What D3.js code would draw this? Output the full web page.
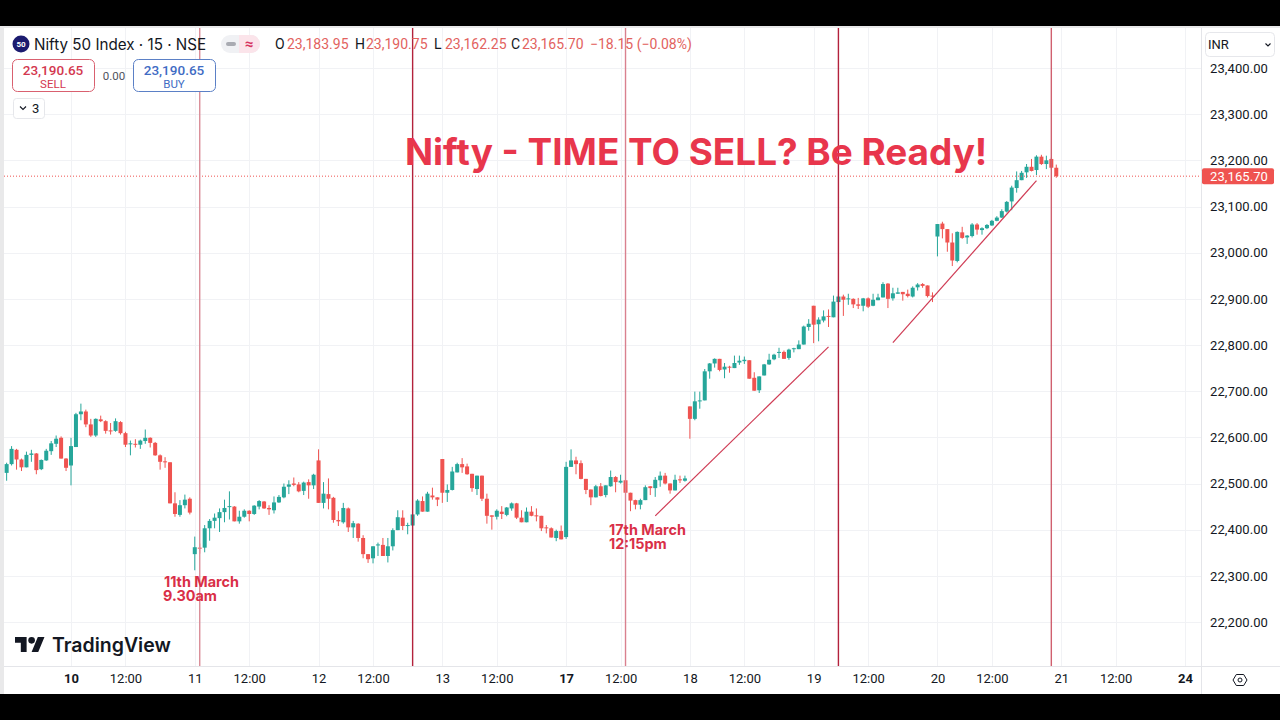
<!DOCTYPE html>
<html>
<head>
<meta charset="utf-8">
<script src="https://d3js.org/d3.v7.min.js"></script>
<style>
  body { margin: 0; background: #000; }
  text { font-family: Roboto, Inter, sans-serif; }
</style>
</head>
<body>
<div id="chart"></div>
<script>
// Nifty 50 15 minute candles
var opens = [
  22523,22542,22573,22552,22535,22562,22565,22531,22550,22570,22586,22599,22554,
  22539,22579,22650,22656,22628,22604,22639,22635,22615,22614,22633,22609,22586,22586,22584,22592,22599,22588,22561,22548,22546,22457,22432,22453,22467,
  22347,22361,22361,22403,22419,22425,22438,22449,22450,22418,22428,22441,22434,22450,22461,22447,22442,22459,22470,22493,22500,22498,22484,22503,22496,
  22550,22458,22477,22469,22421,22416,22446,22405,22413,22382,22347,22338,22366,22367,22343,22364,22399,22426,22408,22409,22433,22462,22439,22474,22470,
  22553,22480,22486,22524,22542,22537,22521,22488,22517,22467,22431,22428,22439,22432,22446,22457,22426,22416,22439,22431,22430,22405,22403,22382,22397,
  22384,22536,22550,22544,22510,22487,22470,22494,22475,22494,22514,22502,22507,22480,22464,22454,22464,22494,22490,22507,22517,22500,22485,22509,22506,
  22667,22640,22678,22680,22743,22760,22770,22747,22753,22750,22762,22765,22767,22729,22702,22734,22758,22769,22783,22785,22772,22791,22791,22801,22839,
  22885,22845,22853,22863,22860,22893,22905,22899,22900,22888,22885,22901,22885,22897,22903,22933,22901,22911,22915,22911,22905,22925,22932,22929,22907,
  23035,23063,23051,23022,22982,23044,23033,23036,23061,23049,23053,23059,23069,23076,23089,23111,23140,23157,23174,23186,23179,23208,23192,23203,23183.95
];
var highs = [
  22545,22581,22575,22554,22569,22573,22566,22552,22575,22592,22604,22602,22555,
  22599,22653,22673,22660,22640,22641,22647,22637,22631,22641,22635,22612,22593,22596,22595,22617,22600,22590,22563,22557,22546,22481,22464,22476,22470,
  22385,22370,22410,22423,22435,22446,22465,22483,22451,22441,22444,22442,22453,22464,22462,22453,22472,22475,22500,22507,22513,22503,22504,22509,22521,
  22574,22503,22511,22471,22440,22458,22448,22419,22414,22388,22347,22364,22372,22382,22382,22403,22442,22442,22415,22433,22466,22472,22482,22491,22470,
  22553,22498,22536,22545,22555,22543,22521,22517,22517,22478,22431,22444,22451,22449,22459,22458,22442,22448,22451,22446,22430,22410,22405,22400,22409,
  22547,22574,22558,22550,22510,22487,22497,22501,22496,22528,22516,22519,22507,22480,22465,22467,22496,22494,22514,22526,22523,22500,22519,22517,22517,
  22667,22699,22699,22748,22761,22771,22770,22761,22755,22777,22777,22775,22767,22741,22732,22759,22781,22781,22794,22788,22792,22794,22810,22842,22856,
  22885,22860,22875,22877,22907,22909,22909,22911,22901,22902,22902,22903,22911,22911,22936,22934,22924,22924,22915,22920,22927,22934,22934,22929,22914,
  23062,23067,23051,23042,23046,23056,23038,23064,23064,23055,23062,23071,23079,23094,23112,23145,23176,23177,23192,23203,23211,23212,23210,23206,23190.75
];
var lows = [
  22506,22539,22530,22527,22535,22547,22520,22529,22549,22562,22579,22554,22527,
  22496,22579,22637,22622,22601,22601,22633,22608,22606,22612,22606,22579,22561,22578,22575,22586,22578,22560,22530,22534,22457,22428,22428,22446,22433,
  22312,22348,22351,22376,22403,22395,22416,22422,22418,22413,22426,22418,22432,22444,22445,22432,22435,22458,22468,22477,22494,22481,22475,22467,22488,
  22458,22446,22444,22415,22408,22413,22395,22382,22374,22338,22328,22327,22343,22343,22329,22355,22399,22399,22390,22408,22430,22439,22439,22465,22451,
  22458,22460,22485,22524,22523,22519,22482,22475,22462,22413,22400,22422,22423,22429,22441,22423,22416,22416,22429,22418,22397,22392,22383,22375,22379,
  22380,22536,22520,22509,22477,22453,22470,22472,22470,22493,22481,22500,22480,22440,22444,22444,22464,22475,22471,22493,22498,22478,22485,22501,22504,
  22597,22637,22662,22680,22727,22751,22743,22728,22740,22750,22757,22759,22727,22701,22696,22734,22757,22767,22772,22770,22768,22784,22791,22801,22831,
  22804,22808,22849,22839,22860,22889,22863,22887,22880,22878,22873,22880,22884,22897,22903,22880,22896,22911,22896,22903,22903,22918,22924,22903,22893,
  22992,23031,23002,22971,22979,23030,23019,23033,23039,23039,23051,23058,23068,23075,23087,23092,23130,23157,23162,23176,23168,23190,23181,23180,23162.25
];
var closes = [
  22542,22575,22552,22535,22562,22565,22529,22551,22571,22587,22597,22554,22534,
  22581,22650,22656,22628,22604,22640,22635,22614,22614,22635,22609,22584,22587,22584,22593,22599,22588,22561,22547,22547,22457,22434,22453,22465,22437,
  22362,22359,22403,22419,22426,22438,22447,22451,22418,22428,22441,22434,22452,22462,22446,22444,22459,22471,22493,22498,22497,22483,22502,22496,22519,
  22458,22478,22467,22421,22418,22447,22405,22414,22382,22347,22336,22364,22368,22343,22364,22399,22427,22408,22410,22433,22463,22439,22478,22470,22465,
  22480,22486,22526,22542,22535,22520,22490,22517,22467,22430,22428,22441,22434,22448,22457,22426,22416,22439,22430,22430,22403,22403,22383,22397,22379,
  22536,22550,22542,22510,22486,22470,22494,22473,22496,22514,22503,22506,22480,22463,22454,22464,22492,22490,22508,22517,22500,22485,22508,22507,22511,
  22640,22678,22680,22743,22760,22770,22746,22753,22751,22761,22766,22768,22727,22701,22732,22758,22768,22779,22785,22770,22790,22793,22801,22840,22846,
  22844,22855,22862,22861,22894,22905,22898,22901,22888,22885,22901,22883,22898,22903,22932,22900,22912,22914,22910,22906,22924,22931,22928,22906,22905,
  23062,23051,23022,22983,23045,23032,23037,23061,23050,23053,23060,23069,23076,23090,23110,23141,23157,23173,23186,23177,23208,23192,23200,23184,23165.70
];

// axis ticks
var priceTicks = [22200,22300,22400,22500,22600,22700,22800,22900,23000,23100,23200,23300,23400];
var timeTickBars = [13,24,38,49,63,74,88,99,113,124,138,149,163,174,188,199,213,224,238];
var timeTickLabels = ["10","12:00","11","12:00","12","12:00","13","12:00","17","12:00","18","12:00","19","12:00","20","12:00","21","12:00","24"];
var boldTimeLabels = ["10","17","24"];

// drawings on the chart
var markerBars = [39,82,125,168,211];
var trendFromBars = [131,179];
var trendFromPrices = [22430,22805];
var trendToBars = [166,208];
var trendToPrices = [22796,23156];
var lastPrice = 23165.70;

var legendParts = ["O","23,183.95","H","23,190.75","L","23,162.25","C","23,165.70","−18.15 (−0.08%)"];

var red = "#ef5350", green = "#26a69a", ink = "#131722", gridColor = "#f1f2f5", lineColor = "#e4e5e9";
var markerColors = ["#d98c98","#b3223c","#d9808f","#b3223c","#d0606f"];

var svg = d3.select("#chart").append("svg")
  .attr("width", 1280)
  .attr("height", 720)
  .style("display", "block");

// black bars + white panel
svg.append("rect").attr("width", 1280).attr("height", 720).attr("fill", "#000");
svg.append("rect").attr("x", 0).attr("y", 26).attr("width", 1280).attr("height", 668).attr("fill", "#e9e9ea");
svg.append("rect").attr("x", 4).attr("y", 28).attr("width", 1276).attr("height", 666).attr("fill", "#fff");

var x = d3.scaleLinear().domain([13, 238]).range([71, 1185]);
var y = d3.scaleLinear().domain([22200, 23400]).range([622, 68]);

// grid
svg.append("g").selectAll("line").data(priceTicks).enter().append("line")
  .attr("x1", 4).attr("x2", 1201)
  .attr("y1", d => Math.round(y(d)) + 0.5).attr("y2", d => Math.round(y(d)) + 0.5)
  .attr("stroke", gridColor);

svg.append("g").selectAll("line").data(timeTickBars).enter().append("line")
  .attr("x1", d => Math.round(x(d)) + 0.5).attr("x2", d => Math.round(x(d)) + 0.5)
  .attr("y1", 28).attr("y2", 666)
  .attr("stroke", gridColor);

// candles
var bars = opens.map((o, i) => ({ i: i, o: o, h: highs[i], l: lows[i], c: closes[i] }));
var barColor = d => d.c >= d.o ? green : red;

var candles = svg.append("g");
candles.selectAll("line").data(bars).enter().append("line")
  .attr("x1", d => x(d.i)).attr("x2", d => x(d.i))
  .attr("y1", d => y(d.h)).attr("y2", d => y(d.l))
  .attr("stroke", barColor)
  .attr("stroke-width", 1);

candles.selectAll("rect").data(bars).enter().append("rect")
  .attr("x", d => x(d.i) - 2)
  .attr("width", 4)
  .attr("y", d => y(Math.max(d.o, d.c)))
  .attr("height", d => Math.max(1, Math.abs(y(d.o) - y(d.c))))
  .attr("fill", barColor);

// last price line
svg.append("line")
  .attr("x1", 4).attr("x2", 1201)
  .attr("y1", y(lastPrice)).attr("y2", y(lastPrice))
  .attr("stroke", red)
  .attr("stroke-dasharray", "1 2");

// vertical markers and trend lines
svg.append("g").selectAll("line").data(markerBars).enter().append("line")
  .attr("x1", d => x(d)).attr("x2", d => x(d))
  .attr("y1", 28).attr("y2", 666)
  .attr("stroke", (d, i) => markerColors[i])
  .attr("stroke-width", 1.4);

svg.append("g").selectAll("line").data(trendFromBars).enter().append("line")
  .attr("x1", d => x(d))
  .attr("y1", (d, i) => y(trendFromPrices[i]))
  .attr("x2", (d, i) => x(trendToBars[i]))
  .attr("y2", (d, i) => y(trendToPrices[i]))
  .attr("stroke", "#cf3b54")
  .attr("stroke-width", 1.2);

// price axis
svg.append("g")
  .attr("transform", "translate(1201,0)")
  .call(d3.axisRight(y).tickValues(priceTicks).tickFormat(d3.format(",.2f")).tickSize(0).tickPadding(9))
  .call(g => g.select(".domain").remove())
  .selectAll("text")
  .attr("font-size", 13)
  .attr("letter-spacing", 0.1)
  .attr("fill", ink);

// time axis
svg.append("g")
  .attr("transform", "translate(0,666)")
  .call(d3.axisBottom(x).tickValues(timeTickBars).tickFormat((d, i) => timeTickLabels[i]).tickSize(0).tickPadding(8))
  .call(g => g.select(".domain").remove())
  .selectAll("text")
  .attr("font-size", 13)
  .attr("font-weight", (d, i) => boldTimeLabels.includes(timeTickLabels[i]) ? 700 : 400)
  .attr("fill", ink);

svg.append("line").attr("x1", 4).attr("x2", 1280).attr("y1", 666.5).attr("y2", 666.5).attr("stroke", lineColor);
svg.append("line").attr("x1", 1201.5).attr("x2", 1201.5).attr("y1", 28).attr("y2", 694).attr("stroke", lineColor);

// last price label
svg.append("rect")
  .attr("x", 1202).attr("y", y(lastPrice) - 8).attr("width", 72).attr("height", 16)
  .attr("rx", 2).attr("fill", red);
svg.append("text")
  .attr("x", 1210).attr("y", y(lastPrice) + 4.5)
  .attr("font-size", 13).attr("letter-spacing", 0.1).attr("fill", "#fff")
  .text(d3.format(",.2f")(lastPrice));

// INR box
svg.append("rect")
  .attr("x", 1205.5).attr("y", 32.5).attr("width", 69).attr("height", 24)
  .attr("rx", 4).attr("fill", "#fff").attr("stroke", "#e6e7eb");
svg.append("text").attr("x", 1208).attr("y", 49).attr("font-size", 13).attr("fill", ink).text("INR");
svg.append("path")
  .attr("d", "M1265.5 43.5l2.5 2.5 2.5-2.5")
  .attr("fill", "none").attr("stroke", ink).attr("stroke-width", 1.1);

// settings icon
svg.append("path")
  .attr("d", "M1233 680l3.3-5.5h7.4l3.3 5.5-3.3 5.5h-7.4z")
  .attr("fill", "none").attr("stroke", ink).attr("stroke-width", 1);
svg.append("circle").attr("cx", 1240).attr("cy", 680).attr("r", 2).attr("fill", "none").attr("stroke", ink);

// title and notes
svg.append("text")
  .attr("x", 405).attr("y", 165)
  .attr("font-family", "Inter")
  .style("font-family", "Inter")
  .attr("font-size", 36.9).attr("font-weight", 700).attr("fill", "#e8364c")
  .text("Nifty - TIME TO SELL? Be Ready!");

var notes = svg.append("g").attr("font-size", 14.4).attr("font-weight", 700).attr("fill", "#d92f47");
notes.selectAll("text").data(["11th March","9.30am","17th March","12:15pm"]).enter().append("text")
  .style("font-family", "Inter")
  .attr("x", (d, i) => [164,163,609,609][i])
  .attr("y", (d, i) => [587,601,535,549][i])
  .text(d => d);

// legend
svg.append("circle").attr("cx", 21).attr("cy", 44).attr("r", 8.5).attr("fill", "#1b1b6f");
svg.append("text").attr("x", 21).attr("y", 47).attr("text-anchor", "middle")
  .attr("font-size", 8).attr("font-weight", 700).attr("fill", "#fff").text("50");
svg.append("text").attr("x", 34).attr("y", 49.5).attr("font-size", 15.2).style("font-family", "Inter").attr("fill", ink)
  .text("Nifty 50 Index · 15 · NSE");

svg.append("rect").attr("x", 221).attr("y", 35).attr("width", 39).attr("height", 18).attr("rx", 9).attr("fill", "#f0f1f4");
svg.append("path").attr("d", "M239 35h12a9 9 0 0 1 0 18h-12z").attr("fill", "#fbe4ea");
svg.append("rect").attr("x", 226).attr("y", 42).attr("width", 10).attr("height", 4).attr("rx", 2).attr("fill", "#a9abb2");
svg.append("text").attr("x", 249).attr("y", 49).attr("text-anchor", "middle").attr("font-size", 15).attr("font-weight", 700).attr("fill", "#d6345f").text("≈");

var legendX = [275,287,355,366,434,445,511,522,590];
svg.append("g").selectAll("text").data(legendParts).enter().append("text")
  .attr("x", (d, i) => legendX[i]).attr("y", 49)
  .attr("font-size", 14)
  .attr("fill", (d, i) => i % 2 === 0 && i < 8 ? ink : "#e2625e")
  .text(d => d);

// sell / buy boxes
function tradeBox(bx, w, color, textColor, price, label) {
  svg.append("rect").attr("x", bx + 0.5).attr("y", 59.5).attr("width", w).attr("height", 32).attr("rx", 5)
    .attr("fill", "#fff").attr("stroke", color);
  svg.append("text").attr("x", bx + w / 2).attr("y", 75).attr("text-anchor", "middle")
    .attr("font-size", 13.5).attr("font-weight", 500).attr("fill", textColor).text(price);
  svg.append("text").attr("x", bx + w / 2).attr("y", 88).attr("text-anchor", "middle")
    .attr("font-size", 11.5).attr("fill", textColor).text(label);
}
tradeBox(12, 82, "#d9606f", "#d3384f", "23,190.65", "SELL");
tradeBox(133, 82, "#5b80c6", "#3f6cc4", "23,190.65", "BUY");
svg.append("text").attr("x", 114).attr("y", 80).attr("text-anchor", "middle")
  .attr("font-size", 11.5).attr("fill", "#50535e").text("0.00");

svg.append("rect").attr("x", 13.5).attr("y", 98.5).attr("width", 31).attr("height", 20).attr("rx", 3)
  .attr("fill", "#fff").attr("stroke", "#e6e7eb");
svg.append("path").attr("d", "M20 106.5l3 3 3-3").attr("fill", "none").attr("stroke", ink).attr("stroke-width", 1.1);
svg.append("text").attr("x", 32).attr("y", 113).attr("font-size", 13).attr("fill", ink).text("3");

// TradingView logo
svg.append("g").attr("transform", "translate(15,633.7) scale(0.83)")
  .call(g => {
    g.append("path").attr("d", "M14 22H7V11H0V4h14v18zM28 22h-8l7.5-18h8L28 22z").attr("fill", ink);
    g.append("circle").attr("cx", 20).attr("cy", 8).attr("r", 4).attr("fill", ink);
  });
svg.append("text").attr("x", 52).attr("y", 652).style("font-family", "Inter").attr("font-size", 19.5).attr("font-weight", 600).attr("fill", ink)
  .text("TradingView");
</script>
</body>
</html>
